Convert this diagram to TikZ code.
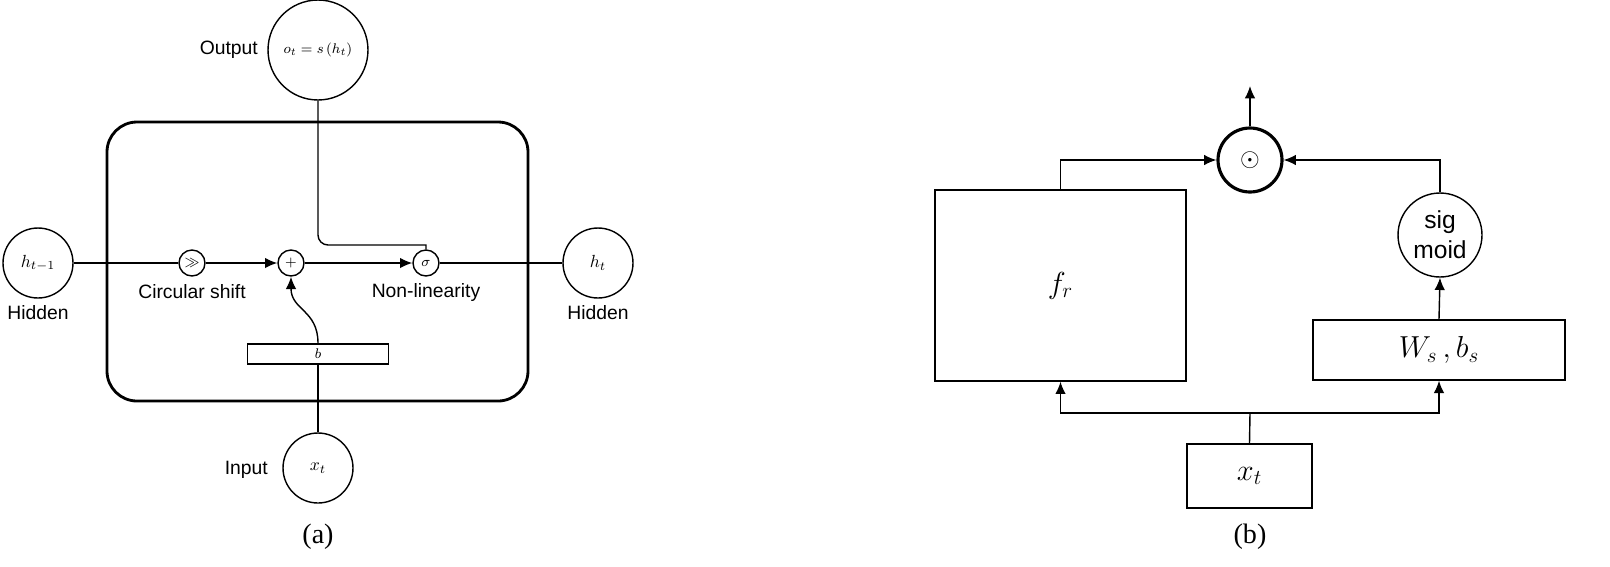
\documentclass[tikz,border=0pt]{standalone}
\usepackage{fontspec}
\setsansfont{Liberation Sans}
\setmainfont{Liberation Serif}
\usepackage{amsmath,amssymb}
\usetikzlibrary{arrows.meta}
\begin{document}
\begin{tikzpicture}[x=0.02cm,y=-0.02cm,
  circ/.style={draw,circle,line width=0.8pt,inner sep=0pt},
  lab/.style={font=\sffamily\fontsize{11}{13}\selectfont},
  arr/.style={-{Latex[length=7pt,width=6pt]},line width=0.8pt},
  ln/.style={line width=0.8pt},
  box/.style={draw,line width=0.8pt}]
\useasboundingbox (0,0) rectangle (1610,566);
% panel a
\node[circ,minimum size=2cm,font=\footnotesize] (out) at (318,50) {$o_t=s\left(h_t\right)$};
\node[lab,anchor=east] (outl) at (264,50) {Output};
\draw[line width=1.6pt,rounded corners=0.6cm] (107,122) rectangle (528,401);
\node[circ,minimum size=1.4cm] (hp) at (38,263) {$h_{t-1}$};
\node[lab] (hpl) at (38,313) {Hidden};
\node[circ,minimum size=0.52cm,font=\footnotesize] (sh) at (192,263) {$\gg$};
\node[lab] (shl) at (192,292) {Circular shift};
\node[circ,minimum size=0.52cm,font=\footnotesize] (pl) at (291,263) {$+$};
\node[circ,minimum size=0.52cm,font=\footnotesize] (sg) at (426,263) {$\sigma$};
\node[lab] (sgl) at (426,292) {Non-linearity};
\node[circ,minimum size=1.4cm] (hn) at (598,263) {$h_t$};
\node[lab] (hnl) at (598,313) {Hidden};
\node[box,minimum width=2.82cm,minimum height=0.4cm,inner sep=0pt,font=\footnotesize] (b) at (318,354) {$b$};
\node[circ,minimum size=1.4cm] (xt) at (318,468) {$x_t$};
\node[lab,anchor=east] (xtl) at (274,470) {Input};
\node[font=\fontsize{16}{18}\selectfont] (la) at (318,537) {(a)};
\draw[ln] (hp) -- (sh);
\draw[arr] (sh) -- (pl);
\draw[arr] (pl) -- (sg);
\draw[ln] (sg) -- (hn);
\draw[ln] (out.south) [rounded corners=0.2cm] -- (318,245) [sharp corners] -- (426,245) -- (sg.north);
\draw[arr] (b.north) to[out=90,in=-90,looseness=1.2] (pl.south);
\draw[ln] (xt.north) -- (b.south);
% panel b
\node[circ,line width=1.8pt,minimum size=1.28cm] (od) at (1250,160) {\Large$\odot$};
\coordinate (top) at (1250,86);
\draw[arr] (od.north) -- (top);
\node[box,minimum width=5.02cm,minimum height=3.82cm] (fr) at (1060.5,285.5) {\LARGE$f_r$};
\node[circ,minimum size=1.68cm,align=center,font=\sffamily\fontsize{14}{17}\selectfont] (sm) at (1440,235) {sig\\moid};
\node[box,minimum width=5.04cm,minimum height=1.2cm] (ws) at (1439,350) {\LARGE$W_s\,,b_s$};
\node[box,minimum width=2.5cm,minimum height=1.28cm] (xb) at (1249.5,476) {\LARGE$x_t$};
\node[font=\fontsize{16}{18}\selectfont] (lb) at (1250,537) {(b)};
\draw[arr] (fr.north) |- (od.west);
\draw[arr] (sm.north) |- (od.east);
\draw[arr] (ws.north) -- (sm.south);
\draw[ln] (xb.north) -- (1250,413);
\draw[arr] (1250,413) -| (fr.south);
\draw[arr] (1250,413) -| (ws.south);
\end{tikzpicture}
\end{document}
